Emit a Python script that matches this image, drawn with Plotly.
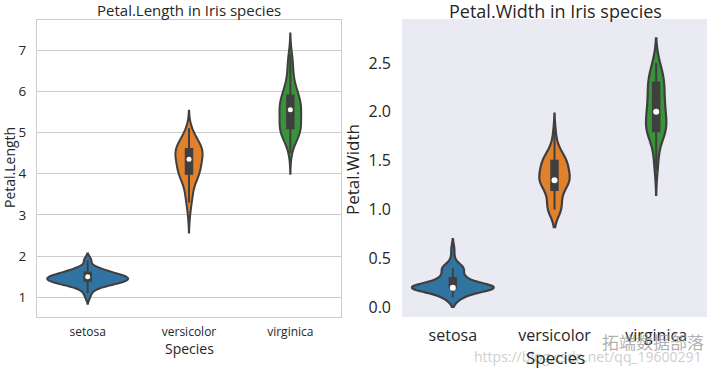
import numpy as np
import plotly.graph_objects as go

species = ["setosa", "versicolor", "virginica"]

petal_length_setosa = [1.4, 1.4, 1.3, 1.5, 1.4, 1.7, 1.4, 1.5, 1.4, 1.5, 1.5, 1.6, 1.4, 1.1, 1.2, 1.5, 1.3, 1.4, 1.7, 1.5,
                       1.7, 1.5, 1.0, 1.7, 1.9, 1.6, 1.6, 1.5, 1.4, 1.6, 1.6, 1.5, 1.5, 1.4, 1.5, 1.2, 1.3, 1.4, 1.3, 1.5,
                       1.3, 1.3, 1.3, 1.6, 1.9, 1.4, 1.6, 1.4, 1.5, 1.4]
petal_length_versicolor = [4.7, 4.5, 4.9, 4.0, 4.6, 4.5, 4.7, 3.3, 4.6, 3.9, 3.5, 4.2, 4.0, 4.7, 3.6, 4.4, 4.5, 4.1, 4.5, 3.9,
                           4.8, 4.0, 4.9, 4.7, 4.3, 4.4, 4.8, 5.0, 4.5, 3.5, 3.8, 3.7, 3.9, 5.1, 4.5, 4.5, 4.7, 4.4, 4.1, 4.0,
                           4.4, 4.6, 4.0, 3.3, 4.2, 4.2, 4.2, 4.3, 3.0, 4.1]
petal_length_virginica = [6.0, 5.1, 5.9, 5.6, 5.8, 6.6, 4.5, 6.3, 5.8, 6.1, 5.1, 5.3, 5.5, 5.0, 5.1, 5.3, 5.5, 6.7, 6.9, 5.0,
                          5.7, 4.9, 6.7, 4.9, 5.7, 6.0, 4.8, 4.9, 5.6, 5.8, 6.1, 6.4, 5.6, 5.1, 5.6, 6.1, 5.6, 5.5, 4.8, 5.4,
                          5.6, 5.1, 5.1, 5.9, 5.7, 5.2, 5.0, 5.2, 5.4, 5.1]
petal_width_setosa = [0.2, 0.2, 0.2, 0.2, 0.2, 0.4, 0.3, 0.2, 0.2, 0.1, 0.2, 0.2, 0.1, 0.1, 0.2, 0.4, 0.4, 0.3, 0.3, 0.3,
                      0.2, 0.4, 0.2, 0.5, 0.2, 0.2, 0.4, 0.2, 0.2, 0.2, 0.2, 0.4, 0.1, 0.2, 0.2, 0.2, 0.2, 0.1, 0.2, 0.2,
                      0.3, 0.3, 0.2, 0.6, 0.4, 0.3, 0.2, 0.2, 0.2, 0.2]
petal_width_versicolor = [1.4, 1.5, 1.5, 1.3, 1.5, 1.3, 1.6, 1.0, 1.3, 1.4, 1.0, 1.5, 1.0, 1.4, 1.3, 1.4, 1.5, 1.0, 1.5, 1.1,
                          1.8, 1.3, 1.5, 1.2, 1.3, 1.4, 1.4, 1.7, 1.5, 1.0, 1.1, 1.0, 1.2, 1.6, 1.5, 1.6, 1.5, 1.3, 1.3, 1.3,
                          1.2, 1.4, 1.2, 1.0, 1.3, 1.2, 1.3, 1.3, 1.1, 1.3]
petal_width_virginica = [2.5, 1.9, 2.1, 1.8, 2.2, 2.1, 1.7, 1.8, 1.8, 2.5, 2.0, 1.9, 2.1, 2.0, 2.4, 2.3, 1.8, 2.2, 2.3, 1.5,
                         2.3, 2.0, 2.0, 1.8, 2.1, 1.8, 1.8, 1.8, 2.1, 1.6, 1.9, 2.0, 2.2, 1.5, 1.4, 2.3, 2.4, 1.8, 1.8, 2.1,
                         2.4, 2.3, 1.9, 2.3, 2.5, 2.3, 1.9, 2.0, 2.3, 1.8]

left_ticks = [1, 2, 3, 4, 5, 6, 7]
right_ticks = [0.0, 0.5, 1.0, 1.5, 2.0, 2.5]

colors = ["#3274a1", "#e1812c", "#3a923a"]
edge = "#3f3f3f"
txt = "#262626"
FONT = "Open Sans, DejaVu Sans, sans-serif"

W, H = 716, 373


def px(x):
    return x / W


def py(y):
    return 1 - y / H


def scott_bw(v):
    a = np.asarray(v, dtype=float)
    return a.std(ddof=1) * len(a) ** (-0.2)


fig = go.Figure()

panels = [
    ("x", "y", [petal_length_setosa, petal_length_versicolor, petal_length_virginica], "L", 2.0, 2, 5),
    ("x2", "y2", [petal_width_setosa, petal_width_versicolor, petal_width_virginica], "R", 2.2, 2, 6),
]

for xa, ya, groups, sg, lw, boxlw, msize in panels:
    for sp, vals, col in zip(species, groups, colors):
        fig.add_trace(go.Violin(
            x=[sp] * len(vals), y=vals, xaxis=xa, yaxis=ya,
            name=sp, showlegend=False,
            fillcolor=col, opacity=1,
            line=dict(color=edge, width=lw),
            bandwidth=scott_bw(vals), spanmode="soft",
            scalegroup=sg, scalemode="count",
            points=False, meanline=dict(visible=False),
            box=dict(visible=True, width=0.08, fillcolor=edge,
                     line=dict(color=edge, width=boxlw)),
            hoverinfo="skip",
        ))
    meds = [float(np.median(g)) for g in groups]
    fig.add_trace(go.Scatter(
        x=species, y=meds, xaxis=xa, yaxis=ya, mode="markers",
        marker=dict(color="white", size=msize, line=dict(width=0)),
        showlegend=False, hoverinfo="skip",
    ))

lx = [px(37), px(341)]
rx = [px(402), px(707)]
ly = [py(317), py(20)]
ry = [py(317), py(19)]

fig.update_layout(
    width=W, height=H,
    margin=dict(l=0, r=0, t=0, b=0),
    paper_bgcolor="white", plot_bgcolor="white",
    font=dict(family=FONT, color=txt),
    violinmode="overlay", violingap=0.2, violingroupgap=0,
    xaxis=dict(domain=lx, anchor="y", type="category", categoryorder="array", categoryarray=species,
               range=[-0.5, 2.5], showgrid=False, showline=True, mirror=True, linecolor="#cccccc",
               linewidth=1, ticks="", tickfont=dict(size=12, color=txt), ticklabelstandoff=4,
               zeroline=False),
    yaxis=dict(domain=ly, anchor="x", range=[0.52, 7.73], tickvals=left_ticks, showgrid=True,
               gridcolor="#cccccc", gridwidth=1, showline=True, mirror=True, linecolor="#cccccc",
               linewidth=1, ticks="", tickfont=dict(size=13.5, color=txt), ticklabelstandoff=7,
               zeroline=False),
    xaxis2=dict(domain=rx, anchor="y2", type="category", categoryorder="array", categoryarray=species,
                range=[-0.5, 2.5], showgrid=False, showline=False, ticks="",
                tickfont=dict(size=16, color=txt), ticklabelstandoff=7, zeroline=False),
    yaxis2=dict(domain=ry, anchor="x2", range=[-0.10, 2.95], tickvals=right_ticks, tickformat=".1f",
                showgrid=False, showline=False, ticks="", tickfont=dict(size=16, color=txt),
                ticklabelstandoff=10, zeroline=False),
    shapes=[dict(type="rect", xref="x2 domain", yref="y2 domain", x0=0, x1=1, y0=0, y1=1,
                 fillcolor="#eaeaf2", line=dict(width=0), layer="below")],
)

ann = [
    dict(text="Petal.Length in Iris species", x=px(189), y=py(10), font=dict(size=15)),
    dict(text="Species", x=px(189), y=py(348), font=dict(size=14)),
    dict(text="Petal.Length", x=px(9), y=py(168), font=dict(size=14), textangle=-90),
    dict(text="Petal.Width in Iris species", x=px(555), y=py(11), font=dict(size=18)),
    dict(text="Petal.Width", x=px(352), y=py(170), font=dict(size=17), textangle=-90),
    dict(text="https://blog.csdn.net/qq_19600291", x=px(588), y=py(356),
         font=dict(size=14, color="rgba(200,200,200,0.9)")),
    dict(text="Species", x=px(555), y=py(357), font=dict(size=17)),
    dict(text="拓端数据部落", x=px(653), y=py(341),
         font=dict(size=17, color="rgba(150,150,150,0.75)",
                   family="Noto Sans CJK SC, sans-serif")),
]
for a in ann:
    a.update(xref="paper", yref="paper", showarrow=False, xanchor="center", yanchor="middle")
    fig.add_annotation(**a)

fig.write_html("out.html", config={"displayModeBar": False, "staticPlot": True},
               post_script="document.body.style.margin='0';document.body.style.overflow='hidden';")
